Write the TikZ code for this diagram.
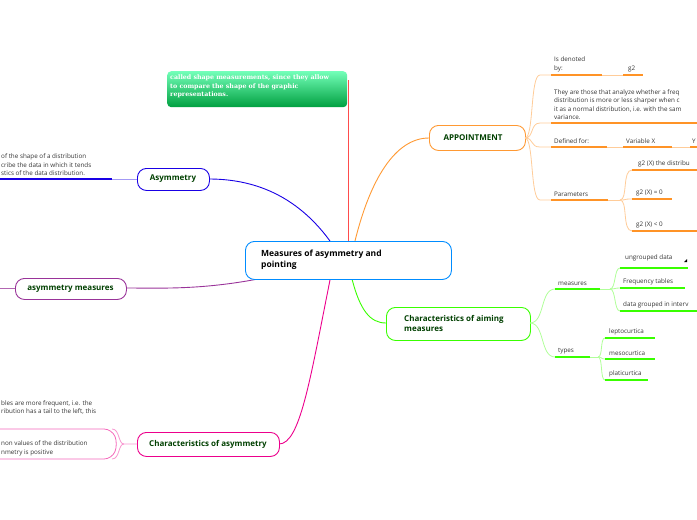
\documentclass[tikz,border=0pt]{standalone}
\usepackage{fontspec}
\setmainfont{Open Sans}
\newfontfamily\notefont{DejaVu Serif}
\begin{document}
\begin{tikzpicture}[x=1pt,y=-1pt,
  main/.style={draw=#1,rounded corners=9pt,line width=0.9pt,fill=white,anchor=north west,inner sep=0pt},
  lbl/.style={font=\fontsize{8}{10}\selectfont\bfseries,text=green!25!black},
  sm/.style={font=\fontsize{6.3}{8.5}\selectfont,text=black!80,anchor=south west,inner sep=1pt,align=left},
  conn/.style={line width=0.9pt},
]
\useasboundingbox (0,0) rectangle (697,520);
\clip (0,0) rectangle (697,520);
% connectors from center
\draw[red!70,line width=0.9pt] (348,241) -- (348,80);
\draw[conn,orange!80] (355,241) .. controls (370,180) and (395,138) .. (429,138);
\draw[conn,green!70!lime] (352,279) .. controls (360,310) and (370,323) .. (386,323);
\draw[conn,blue!80!violet] (330,241) .. controls (300,200) and (260,179) .. (209,179);
\draw[conn,violet!80] (258,279) .. controls (200,290) and (160,288) .. (126,288);
\draw[conn,magenta] (330,280) .. controls (310,380) and (300,444) .. (279,444);
% green note
\node[anchor=north west,minimum width=180pt,minimum height=36pt,rounded corners=4pt,
  top color=green!50!cyan!55,bottom color=green!50!black!75!cyan,inner sep=0pt] (note) at (167,71) {};
\node[anchor=north west,text=white,font=\notefont\fontsize{6.3}{8.5}\selectfont\bfseries,align=left,inner sep=0pt] (notet) at (170,75)
 {called shape measurements, since they allow\\to compare the shape of the graphic\\representations.};
% center
\node[main=blue!45!cyan,minimum width=206pt,minimum height=38pt] (c) at (245,241) {};
\node[anchor=west,align=left,font=\fontsize{8.5}{11}\selectfont\bfseries,inner sep=0pt] (ct) at (261,260)
 {Measures of asymmetry and\\pointing};
% APPOINTMENT
\node[main=orange!80,minimum width=96pt,minimum height=25pt] (ap) at (429,125) {};
\node[lbl] (apt) at (473,138) {APPOINTMENT};
\begin{scope}[orange!40,line width=0.8pt]
\foreach \y in {75,123,147,200}{\draw (525,138) .. controls (534,138) and (530,\y) .. (540,\y) -- (551,\y);}
\draw (608,200) -- (620,200);
\foreach \y in {170,199,231}{\draw (620,200) .. controls (628,200) and (622,\y) .. (632,\y);}
\draw (602,75) -- (623,75); \draw (607,147) -- (623,147); \draw (672,147) -- (690,147);
\end{scope}
\begin{scope}[orange!85,line width=1.1pt]
\draw (551,75) -- (602,75); \draw (623,75) -- (643,75);
\draw (551,123) -- (697,123);
\draw (551,147) -- (607,147); \draw (623,147) -- (672,147); \draw (690,147) -- (697,147);
\draw (551,200) -- (608,200);
\draw (632,170) -- (697,170); \draw (632,199) -- (672,199); \draw (632,231) -- (697,231);
\end{scope}
\node[sm] (d1) at (553,73) {Is denoted\\by:};
\node[sm] (d2) at (627,73) {g2};
\node[sm] (d3) at (553,121) {They are those that analyze whether a freq\\distribution is more or less sharper when c\\it as a normal distribution, i.e. with the sam\\variance.};
\node[sm] (d4) at (553,145) {Defined for:};
\node[sm] (d5) at (625,145) {Variable X};
\node[sm] (d6) at (691,145) {Y};
\node[sm] (d7) at (553,198) {Parameters};
\node[sm] (d8) at (637,168) {g2 (X) the distribu};
\node[sm] (d9) at (635,197) {g2 (X) = 0};
\node[sm] (d10) at (635,229) {g2 (X) < 0};
% aiming
\node[main=green!70!lime,minimum width=144pt,minimum height=33pt] (ai) at (386,307) {};
\node[lbl,anchor=west,align=left,inner sep=0pt] (ait) at (404,323) {Characteristics of aiming\\measures};
\begin{scope}[green!70!lime!40,line width=0.8pt]
\foreach \y in {289,357}{\draw (530,323) .. controls (545,323) and (540,\y) .. (555,\y);}
\draw (600,289)--(610,289);
\foreach \y in {268,288,311}{\draw (610,289) .. controls (616,289) and (614,\y) .. (620,\y);}
\draw (590,357)--(598,357);
\foreach \y in {338,359,380}{\draw (598,357) .. controls (603,357) and (600,\y) .. (605,\y);}
\end{scope}
\begin{scope}[green!70!lime,line width=1.1pt]
\draw (555,289)--(600,289); \draw (555,357)--(590,357);
\draw (620,268)--(688,268); \draw (620,288)--(685,288); \draw (620,311)--(697,311);
\draw (605,338)--(655,338); \draw (605,359)--(655,359); \draw (605,380)--(648,380);
\end{scope}
\node[sm] (m1) at (557,287) {measures};
\node[sm] (m2) at (557,355) {types};
\node[sm] (m3) at (624,262) {ungrouped data};
\fill (684,262) -- (687,262) -- (687,259) -- cycle;
\node[sm] (m4) at (622,286) {Frequency tables};
\node[sm] (m5) at (622,309) {data grouped in interv};
\node[sm] (m6) at (608,336) {leptocurtica};
\node[sm] (m7) at (608,357) {mesocurtica};
\node[sm] (m8) at (608,378) {platicurtica};
% Asymmetry
\node[main=blue!80!violet,minimum width=72pt,minimum height=22pt] (as) at (137,168) {};
\node[lbl] (ast) at (173,179) {Asymmetry};
\draw[blue!80!violet!40,line width=0.8pt] (112,179) -- (137,179);
\draw[blue!80!violet,line width=1.1pt] (0,179) -- (112,179);
\node[sm] (a1) at (0,177) {of the shape of a distribution\\cribe the data in which it tends\\stics of the data distribution.};
% asymmetry measures
\node[main=violet!80,minimum width=111pt,minimum height=21pt] (am) at (15,278) {};
\node[lbl] (amt) at (70.5,288.5) {asymmetry measures};
\draw[violet!60,line width=0.8pt] (0,288) -- (15,288);
% characteristics of asymmetry
\node[main=magenta,minimum width=142pt,minimum height=24pt] (ca) at (137,432) {};
\node[lbl] (cat) at (208,444) {Characteristics of asymmetry};
\draw[magenta!40,line width=0.8pt] (137,444) -- (124,444)
  .. controls (118,444) and (120,429) .. (112,429);
\draw[magenta!40,line width=0.8pt] (124,444) .. controls (118,444) and (120,459) .. (112,459);
\draw[magenta!60,line width=0.8pt,rounded corners=8pt] (-10,429) -- (112,429) -- (118,444) -- (112,459) -- (-10,459);
\node[sm] (c1) at (0,416) {bles are more frequent, i.e. the\\ribution has a tail to the left, this};
\node[sm] (c2) at (0,457) {non values of the distribution\\nmetry is positive};
\end{tikzpicture}
\end{document}
